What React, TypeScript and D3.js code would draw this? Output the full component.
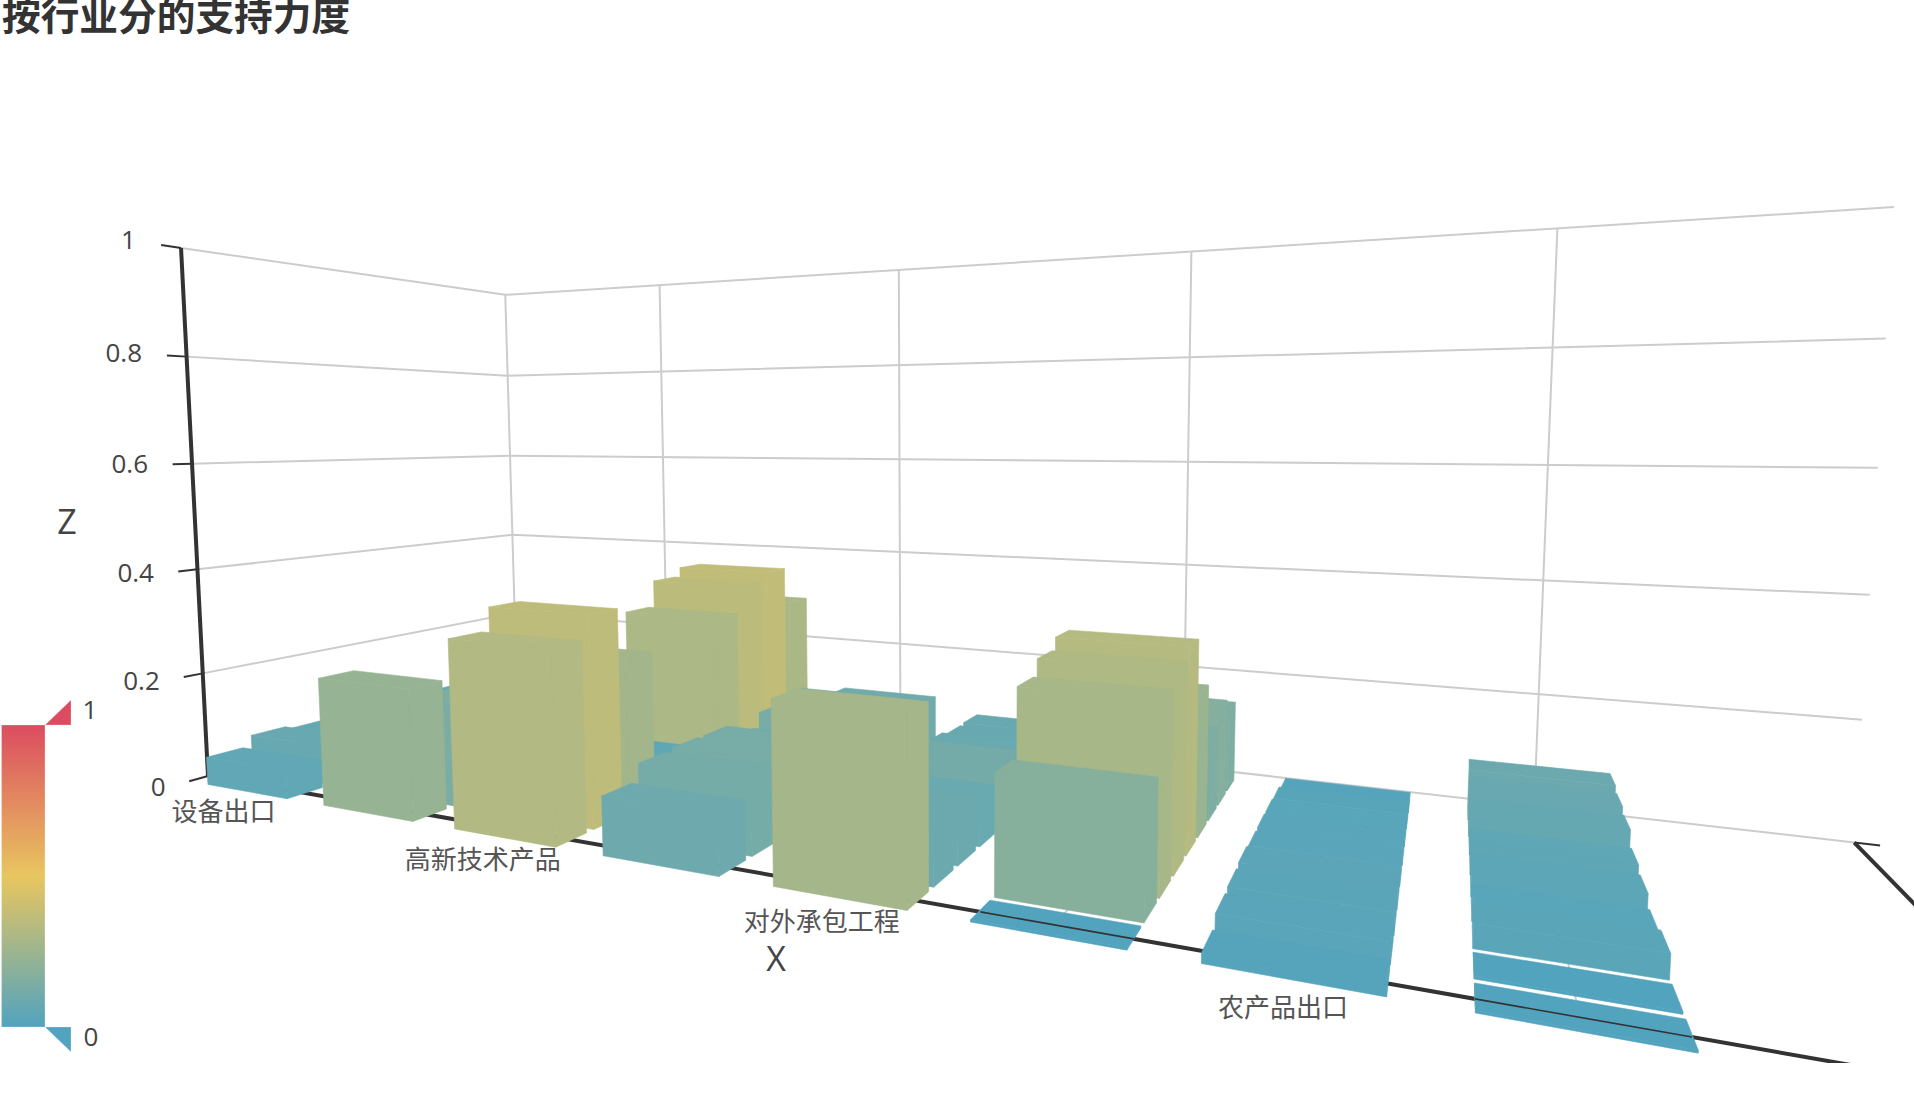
import * as d3 from 'd3';

const WIDTH = 1914;
const HEIGHT = 1118;
const CHART_BOTTOM = 1063; // the chart canvas ends here, the axis runs past it

const title = '按行业分的支持力度';
const xLabels = ['设备出口', '', '高新技术产品', '', '对外承包工程', '', '农产品出口', '', ''];
const xGridIndexes = [1, 3, 5, 7];
const rowIndexes = d3.range(9);
const zTicks = [0, 0.2, 0.4, 0.6, 0.8, 1];

// one array per column, first value is the row on the x axis, last one is the row nearest the back wall
const column0 = [0.052, 0.072, 0.066, 0.07, 0.07, 0.07, 0.07, 0.07, 0.07];
const column1 = [0.228, 0.14, 0.13, 0.15, 0.1, 0.09, 0.09, 0.09, 0.09];
const column2 = [0.32, 0.36, 0.27, 0.05, 0.05, 0.3, 0.352, 0.37, 0.295];
const column3 = [0.095, 0.123, 0.126, 0.125, 0.1, 0.126, 0.14, 0.1, 0.104];
const column4 = [0.277, 0.09, 0.088, 0.08, 0.115, 0.09, 0.08, 0.073, 0.075];
const column5 = [0.003, 0.18, 0.285, 0.31, 0.329, 0.237, 0.145, 0.173, 0.15];
const column6 = [0.014, 0.029, 0.032, 0.035, 0.03, 0.03, 0.028, 0.024, 0.015];
const column7 = [0.003, 0.003, 0.033, 0.025, 0.04, 0.048, 0.07, 0.078, 0.086];
const columns = [column0, column1, column2, column3, column4, column5, column6, column7];

// homogeneous projection columns: x, y, z and origin
const camX = [857.4, -216.5, -0.4968];
const camY = [479.6, 142.5, 0.33];
const camZ = [-33.3, -536.7, -0.035];
const camO = [208, 776, 1];

type P3 = [number, number, number];

const project = ([x, y, z]: P3): [number, number] => {
  const c = [0, 1, 2].map((i) => camX[i] * x + camY[i] * y + camZ[i] * z + camO[i]);
  return [c[0] / c[2], c[1] / c[2]];
};

// eye position, from M * eye = -origin
const det3 = (a: number[], b: number[], c: number[]) =>
  a[0] * (b[1] * c[2] - b[2] * c[1]) - b[0] * (a[1] * c[2] - a[2] * c[1]) + c[0] * (a[1] * b[2] - a[2] * b[1]);
const minusO = camO.map((v) => -v);
const detM = det3(camX, camY, camZ);
const eye: P3 = [det3(minusO, camY, camZ) / detM, det3(camX, minusO, camZ) / detM, det3(camX, camY, minusO) / detM];

const xScale = d3.scaleBand<number>().domain(d3.range(xLabels.length)).range([0.002, 1.002]).paddingInner(0.305).paddingOuter(0.1525);
const yScale = d3.scalePoint<number>().domain(rowIndexes).range([0, 8 / 9]);
const zScale = d3.scaleLinear().domain([0, 1]).range([0, 1]);
const colorScale = d3.scaleLinear<string>().domain([0, 0.5, 1]).range(['#51a3bf', '#e8c65f', '#dc4c60']).clamp(true);
const legendY = d3.scaleLinear().domain([0, 1]).range([1027, 725]);

const line = d3.line();
const path3 = (pts: P3[], close = false) => line(pts.map(project)) + (close ? 'Z' : '');

const xCenter = (i: number) => (xScale(i) as number) + xScale.bandwidth() / 2;
const rowDepth = yScale.step() * 0.8;

const bars = columns
  .flatMap((col, i) =>
    col.map((value, j) => {
      const x0 = xScale(i) as number;
      const x1 = x0 + xScale.bandwidth();
      const y0 = (yScale(j) as number) - rowDepth / 2;
      const y1 = y0 + rowDepth;
      const z = zScale(value);
      const faces: P3[][] = [];
      if (eye[0] < x0) faces.push([[x0, y0, 0], [x0, y1, 0], [x0, y1, z], [x0, y0, z]]);
      if (eye[0] > x1) faces.push([[x1, y0, 0], [x1, y1, 0], [x1, y1, z], [x1, y0, z]]);
      if (eye[1] < y0) faces.push([[x0, y0, 0], [x1, y0, 0], [x1, y0, z], [x0, y0, z]]);
      const top: P3[] = [[x0, y0, z], [x1, y0, z], [x1, y1, z], [x0, y1, z]];
      const dist = Math.hypot((x0 + x1) / 2 - eye[0], (y0 + y1) / 2 - eye[1]);
      return { i, j, value, x0, x1, faces, top, dist };
    })
  )
  .sort((a, b) => b.dist - a.dist);

const GRID = '#ccc';
const AXIS = '#333';
const TEXT = '#444';
const SANS = '"Open Sans", "Noto Sans", sans-serif';
const CJK = '"Noto Sans CJK SC", "Noto Sans", sans-serif';

export default function App() {
  return (
    <svg width={WIDTH} height={HEIGHT} style={{ position: 'absolute', left: 0, top: 0 }}>
      <defs>
        <clipPath id="chart-area">
          <rect x={0} y={0} width={WIDTH} height={CHART_BOTTOM} />
        </clipPath>
        <linearGradient id="legend-gradient" x1="0" y1="1" x2="0" y2="0">
          {d3.range(0, 1.01, 0.25).map((t) => (
            <stop key={t} offset={t} stopColor={colorScale(t)} />
          ))}
        </linearGradient>
      </defs>

      <text x={2} y={30} fontFamily={CJK} fontSize={38.7} fontWeight={700} fill="#333">
        {title}
      </text>

      <g clipPath="url(#chart-area)" fill="none">
        {/* walls */}
        <g stroke={GRID} strokeWidth={2}>
          {zTicks.map((t) => (
            <path key={t} d={path3([[0, 0, zScale(t)], [0, 1, zScale(t)], [1, 1, zScale(t)]])} />
          ))}
          <path d={path3([[0, 1, 0], [0, 1, 1]])} />
          {xGridIndexes.map((i) => (
            <path key={i} d={path3([[xCenter(i), 0, 0], [xCenter(i), 1, 0], [xCenter(i), 1, 1]])} />
          ))}
        </g>

        {/* axes and ticks */}
        <g stroke={AXIS}>
          <path d={path3([[0, 0, 0], [1, 0, 0]])} strokeWidth={4} />
          <path d={path3([[1, 0, 0], [1, 1, 0]])} strokeWidth={4} />
          <path d={path3([[0, 0, 0], [0, 0, 1]])} strokeWidth={4} />
          <path d={path3([[1, 1, 0], [1.012, 1, 0]])} strokeWidth={2} />
          {zTicks.map((t) => (
            <path key={t} d={path3([[0, 0, zScale(t)], [0, -0.045, zScale(t)]])} strokeWidth={2} />
          ))}
        </g>

        {/* bars, far ones first */}
        {bars.map((b) => {
          const fill = colorScale(b.value);
          return (
            <g key={`${b.i}-${b.j}`}>
              {b.faces.map((f, k) => (
                <path key={k} d={path3(f, true)} fill={fill} stroke={fill} strokeWidth={0.6} />
              ))}
              <path d={path3(b.top, true)} fill={fill} stroke={fill} strokeWidth={0.6} />
              {b.j === 0 && b.value < 0.01 && (
                <path d={path3([[b.x0, 0, 0], [b.x1, 0, 0]])} stroke={AXIS} strokeWidth={1.6} />
              )}
            </g>
          );
        })}
      </g>

      {/* z labels */}
      <g fontFamily={SANS} fontSize={26} fill={TEXT} textAnchor="end" dominantBaseline="central">
        {zTicks.map((t) => {
          const [lx, ly] = project([0, -0.1, zScale(t)]);
          return (
            <text key={t} x={lx} y={ly - 2}>
              {t}
            </text>
          );
        })}
      </g>

      {/* x labels */}
      <g fontFamily={CJK} fontSize={26} fill="#555" textAnchor="middle" dominantBaseline="central">
        {xLabels.map((label, i) => {
          if (!label) return null;
          const [lx, ly] = project([xCenter(i), -0.09, 0]);
          return (
            <text key={i} x={lx - 4} y={ly + 12}>
              {label}
            </text>
          );
        })}
      </g>

      {/* axis names */}
      <g fontFamily={SANS} fontSize={34} fill={TEXT} textAnchor="middle" dominantBaseline="central">
        <text x={776} y={958}>X</text>
        <text x={67} y={521}>Z</text>
      </g>

      {/* visual map */}
      <g stroke="#fff" strokeOpacity={0.25}>
        <rect x={1.5} y={legendY(1)} width={43.5} height={legendY(0) - legendY(1)} fill="url(#legend-gradient)" />
        <path d={`M45,${legendY(1)}L71,${legendY(1)}L71,${legendY(1) - 25}Z`} fill={colorScale(1)} />
        <path d={`M45,${legendY(0)}L71,${legendY(0)}L71,${legendY(0) + 25}Z`} fill={colorScale(0)} />
      </g>
      <g fontFamily={SANS} fontSize={26} fill={TEXT} textAnchor="middle" dominantBaseline="central">
        <text x={90} y={legendY(1) - 16}>1</text>
        <text x={91} y={legendY(0) + 9}>0</text>
      </g>
    </svg>
  );
}
